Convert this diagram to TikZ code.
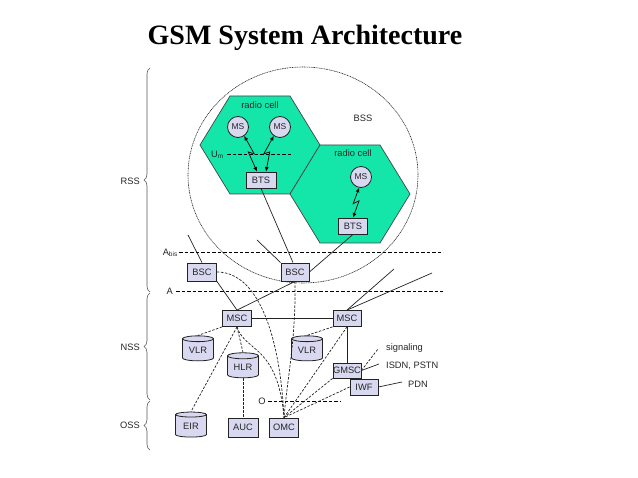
\documentclass[tikz,border=0pt]{standalone}
\usepackage{fontspec}
\setmainfont{Liberation Sans}
\newfontfamily\titlefont{Liberation Serif}
\usetikzlibrary{shapes.geometric,decorations.pathreplacing,arrows.meta,calc}
\definecolor{teal1}{RGB}{20,230,170}
\definecolor{lav}{RGB}{216,216,240}
\definecolor{linec}{RGB}{35,35,35}
\begin{document}
\begin{tikzpicture}[x=1pt,y=-1pt,
 every node/.style={font=\fontsize{9.3}{10}\selectfont, text=black!85},
 box/.style={draw=linec, fill=lav, line width=0.8pt, minimum width=29pt, minimum height=17pt, inner sep=0pt},
 ms/.style={circle, draw=linec, fill=lav, line width=0.8pt, minimum size=21pt, inner sep=0pt, font=\fontsize{8.5}{10}\selectfont},
 cyl/.style={cylinder, shape border rotate=90, aspect=0.32, draw=linec, fill=lav, line width=0.8pt, minimum width=31pt, minimum height=25pt, inner sep=0pt},
 sol/.style={draw=linec, line width=0.7pt},
 dsh/.style={draw=linec, line width=0.7pt, dash pattern=on 2.5pt off 1.5pt},
 iface/.style={draw=black, line width=0.8pt, dash pattern=on 3.5pt off 2pt},
 zz/.style={draw=black, line width=0.7pt, {Latex[length=4.5pt,width=4pt]}-{Latex[length=4.5pt,width=4pt]}},
 brc/.style={draw=gray!70!black, line width=0.6pt, decorate, decoration={brace, amplitude=6pt}},
 lbl/.style={inner sep=0pt}
]
\useasboundingbox (0,0) rectangle (638,478);
\fill[white] (0,0) rectangle (638,478);

\node[lbl, font=\titlefont\bfseries\fontsize{28}{30}\selectfont, anchor=base, text=black] (title) at (305,45) {GSM System Architecture};

% braces
\draw[brc] (150,292) -- (150,68);
\draw[brc] (150,400) -- (150,293);
\draw[brc] (150,450) -- (150,401);
\node[lbl, anchor=east] (RSS) at (140,181) {RSS};
\node[lbl, anchor=east] (NSS) at (140,347) {NSS};
\node[lbl, anchor=east] (OSS) at (140,425) {OSS};

% BSS circle and cells
\draw[linec, line width=0.6pt, dash pattern=on 1pt off 0.7pt] (303,175) ellipse [x radius=115pt, y radius=108pt];
\draw[fill=teal1, draw=linec!85, line width=0.7pt] (230,96) -- (290,96) -- (320,145) -- (290,194) -- (230,194) -- (200,145) -- cycle;
\draw[fill=teal1, draw=linec!85, line width=0.7pt] (320,145) -- (380,145) -- (410,194) -- (380,243) -- (320,243) -- (290,194) -- cycle;
\node[lbl] (cell1) at (260,105) {radio cell};
\node[lbl] (cell2) at (353,153) {radio cell};
\node[lbl] (BSS) at (363,118) {BSS};

% interfaces
\node[lbl, anchor=east] (Um) at (224,155) {U\textsubscript{m}};
\coordinate (UmW) at (227,154); \coordinate (UmE) at (292,154);
\draw[iface] (UmW) -- (UmE);
\node[lbl, anchor=east] (Abis) at (178,253) {A\textsubscript{bis}};
\coordinate (AbW) at (179,252); \coordinate (AbE) at (443,252);
\draw[iface] (AbW) -- (AbE);
\node[lbl, anchor=east] (A) at (173,291) {A};
\coordinate (AW) at (176,291); \coordinate (AE) at (443,291);
\draw[iface] (AW) -- (AE);
\node[lbl] (O) at (262,401) {O};
\coordinate (OW) at (268,401); \coordinate (OE) at (340,401);
\draw[iface] (OW) -- (OE);

% nodes
\node[ms] (MS1) at (238,127) {MS};
\node[ms] (MS2) at (280,127) {MS};
\node[ms] (MS3) at (361,177) {MS};
\node[box, minimum width=30pt, minimum height=16pt] (BTS1) at (261,180) {BTS};
\node[box, minimum height=16pt] (BTS2) at (353,226) {BTS};
\node[box, minimum height=18pt] (BSC1) at (202,272) {BSC};
\node[box, minimum width=28pt, minimum height=18pt] (BSC2) at (295,272) {BSC};
\node[box, minimum height=16pt] (MSC1) at (237,318.5) {MSC};
\node[box, minimum width=28pt, minimum height=16pt] (MSC2) at (347,318.5) {MSC};
\node[box, minimum width=28pt, minimum height=15pt] (GMSC) at (347,370.5) {GMSC};
\node[box, minimum width=28pt, minimum height=16pt] (IWF) at (364,387) {IWF};
\node[cyl] (VLR1) at (198,350) {VLR};
\node[cyl] (VLR2) at (307,350) {VLR};
\node[cyl] (HLR) at (243,367) {HLR};
\node[cyl] (EIR) at (191,426) {EIR};
\node[box, minimum width=30pt, minimum height=19pt] (AUC) at (243,427.5) {AUC};
\node[box, minimum width=29pt, minimum height=19pt] (OMC) at (284,427.5) {OMC};

\node[lbl, anchor=west] (sigl) at (386,348) {signaling};
\node[lbl, anchor=west] (isdnl) at (386,366) {ISDN, PSTN};
\node[lbl, anchor=west] (pdnl) at (408,384) {PDN};
\coordinate (sig) at (378,349);
\coordinate (isdn) at (379,364);
\coordinate (pdn) at (402,382);
\coordinate (b1) at (188,235);
\coordinate (b2) at (257,240);
\coordinate (m1) at (394,269);
\coordinate (m2) at (432,273);

% radio links
\draw[zz] (MS1.-55) -- ++(10,18) -- ++(-6,-2) -- ([xshift=-4pt]BTS1.north);
\draw[zz] (MS2.-125) -- ++(-10,18) -- ++(6,-2) -- ([xshift=5pt]BTS1.north);
\draw[zz] (MS3.-100) -- ++(-6,16) -- ++(6,-3) -- (BTS2.north);

% solid connections
\draw[sol] (b1) -- (BSC1.north);
\draw[sol] (b2) -- (BSC2.north west);
\draw[sol] (BTS1.south) -- ([xshift=-2pt]BSC2.north);
\draw[sol] (BTS2.south) -- (BSC2.east);
\draw[sol] (BSC1.south east) -- (MSC1.north);
\draw[sol] (BSC2.south) -- (MSC1.north);
\draw[sol] (MSC1) -- (MSC2);
\draw[sol] (MSC2.north) -- (m1);
\draw[sol] (MSC2.north) -- (m2);
\draw[sol] (MSC2) -- (GMSC);
\draw[sol] (GMSC.east) -- (isdn);
\draw[sol] (IWF.east) -- (pdn);

% dashed connections
\draw[dsh] (GMSC.east) -- (sig);
\draw[dsh] (MSC1.south west) -- (VLR1.north);
\draw[dsh] (MSC2.south west) -- (VLR2.north);
\draw[dsh] (MSC1.south) -- (EIR.north);
\draw[dsh] (MSC1.south) -- (HLR.north);
\draw[dsh] (HLR.south) -- (AUC.north);
\draw[dsh] (MSC1.south) .. controls (245,352) and (278,345) .. (OMC.north);
\draw[dsh] (BSC1.east) .. controls (258,272) and (280,335) .. (OMC.north);
\draw[dsh] (BSC2.south) .. controls (296,340) and (287,380) .. (OMC.north);
\draw[dsh] (MSC2.south) -- (OMC.north);
\draw[dsh] (GMSC.south west) -- (OMC.north);
\draw[dsh] (IWF.west) -- (OMC.north);
\end{tikzpicture}
\end{document}
